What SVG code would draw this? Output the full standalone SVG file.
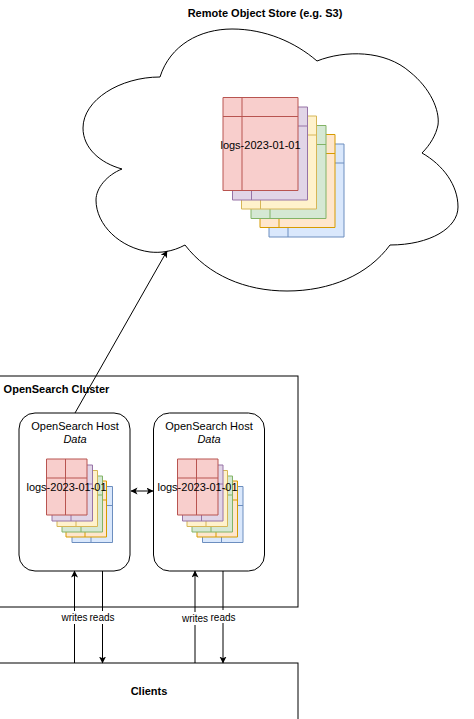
<svg xmlns="http://www.w3.org/2000/svg" width="474" height="719" viewBox="0 0 474 719">
<style>
text{font-family:"Liberation Sans",Arial,sans-serif;fill:#000;text-anchor:middle}
.t{font-size:11px}.b{font-size:11px;font-weight:bold}.l{font-size:10px}
.box{fill:#fff;stroke:#000;stroke-width:1}
.edge{fill:none;stroke:#000;stroke-width:1}
.bg{fill:#fff}
.r{fill:#f8cecc;stroke:#b85450}.p{fill:#e1d5e7;stroke:#9673a6}.y{fill:#fff2cc;stroke:#d6b656}.g{fill:#d5e8d4;stroke:#82b366}.o{fill:#ffe6cc;stroke:#d79b00}.c{fill:#dae8fc;stroke:#6c8ebf}
</style>
<defs>
<marker id="a" markerWidth="8" markerHeight="8" refX="6.5" refY="3.5" orient="auto-start-reverse" markerUnits="userSpaceOnUse"><path d="M0 0L7 3.5L0 7L1.8 3.5Z" fill="#000"/></marker>
<symbol id="big" overflow="visible"><path d="M0 0H75V93H0Z M0 19H75M19 0V93"/></symbol>
<symbol id="small" overflow="visible"><path d="M0 0H40.500V56H0Z M0 19H40.500M19 0V56"/></symbol>
</defs>
<g id="cloud">
<path class="box" d="M160 77C170 45 200 29 232 29C265 29 295 42 317 61C345 50 385 50 410 72C430 88 440 110 438 125C436 135 430 145 422 153C443 165 458 185 458 207C458 228 430 245 390 245C368 275 330 291 287 291C245 291 208 275 185 245C172 252 160 253 150 252C120 248 96 225 96 200C96 188 107 175 122 169C100 163 83 148 83 128C83 100 120 77 160 77Z"/>
<text class="b" x="265" y="17">Remote Object Store (e.g. S3)</text>
</g>
<g id="store-tables">
<use href="#big" class="c" x="269" y="144"/><use href="#big" class="o" x="260" y="134.500"/><use href="#big" class="g" x="251" y="125.500"/><use href="#big" class="y" x="241.500" y="116"/><use href="#big" class="p" x="232.500" y="107"/><use href="#big" class="r" x="223" y="97.500"/>
<text class="t" x="260.500" y="149">logs-2023-01-01</text>
</g>
<g id="cluster"><rect class="box" x="-1" y="376" width="299" height="231"/><text class="b" x="56.500" y="392.500">OpenSearch Cluster</text></g>
<g id="host-1">
<rect class="box" x="19" y="413" width="111" height="158" rx="16"/>
<text class="t" x="75" y="430">OpenSearch Host</text><text class="t" x="75" y="443" font-style="italic">Data</text>
<use href="#small" class="c" x="72" y="486.500"/><use href="#small" class="o" x="66" y="481"/><use href="#small" class="g" x="62" y="476"/><use href="#small" class="y" x="57" y="470.500"/><use href="#small" class="p" x="52" y="465"/><use href="#small" class="r" x="46.500" y="459"/>
<text class="t" x="66.500" y="491">logs-2023-01-01</text>
</g>
<g id="host-2">
<rect class="box" x="153.500" y="413" width="111" height="158" rx="16"/>
<text class="t" x="209" y="430">OpenSearch Host</text><text class="t" x="209" y="443" font-style="italic">Data</text>
<use href="#small" class="c" x="202.500" y="486.500"/><use href="#small" class="o" x="197" y="481"/><use href="#small" class="g" x="192" y="476"/><use href="#small" class="y" x="187" y="470.500"/><use href="#small" class="p" x="182.500" y="465"/><use href="#small" class="r" x="177.500" y="459"/>
<text class="t" x="197.500" y="491">logs-2023-01-01</text>
</g>
<g id="clients"><rect class="box" x="-1" y="663" width="299" height="70"/><text class="b" x="149" y="694.500">Clients</text></g>
<g id="connectors">
<path class="edge" marker-end="url(#a)" d="M75 413L167 251"/>
<path class="edge" marker-start="url(#a)" marker-end="url(#a)" d="M131 491H153"/>
<path class="edge" marker-end="url(#a)" d="M74.500 663V571"/>
<path class="edge" marker-end="url(#a)" d="M102.500 571V663"/>
<path class="edge" marker-end="url(#a)" d="M195 663V571"/>
<path class="edge" marker-end="url(#a)" d="M223 571V663"/>
<rect class="bg" x="61" y="611" width="27" height="13"/><text class="l" x="74.500" y="620.500">writes</text>
<rect class="bg" x="89" y="611" width="27" height="13"/><text class="l" x="102" y="621">reads</text>
<rect class="bg" x="181" y="612" width="27" height="13"/><text class="l" x="195" y="622">writes</text>
<rect class="bg" x="210" y="610" width="26" height="13"/><text class="l" x="223" y="620.500">reads</text>
</g>
</svg>
